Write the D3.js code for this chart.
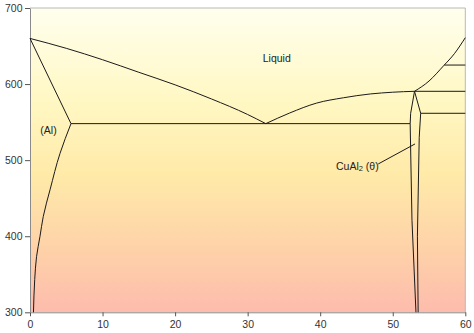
<!DOCTYPE html>
<html>
<head>
<meta charset="utf-8">
<script src="https://cdn.jsdelivr.net/npm/d3@7"></script>
<style>
  html, body { margin: 0; padding: 0; background: #fff; }
  svg { display: block; }
  .tick text { font-family: "Liberation Sans", Arial, sans-serif; font-size: 10.5px; fill: #333; }
  .lbl { font-family: "Liberation Sans", Arial, sans-serif; font-size: 10.5px; fill: #222; }
</style>
</head>
<body>
<svg id="chart" width="474" height="333"></svg>
<script>
// Al–Cu phase diagram, Al-rich side (wt% Cu vs temperature °C)
const xTicks = [0, 10, 20, 30, 40, 50, 60];
const yTicks = [300, 400, 500, 600, 700];

// Liquidus, Al side: Al melting point down to the eutectic
const liquidusAl = [[0, 660], [5, 647], [10, 632], [15, 615.5], [20, 599], [25, 580.5], [30, 560], [32.5, 548]];
// Liquidus, θ side: eutectic up to the θ peritectic point
const liquidusTheta = [[32.5, 548], [35.8, 562], [39.5, 575], [43.2, 582], [46.9, 587], [50, 589.3], [53.0, 590.5]];
// Liquidus above the θ point
const liquidusEta = [[53.0, 590.5], [55, 604], [57, 624], [58.5, 640], [60, 661]];
// Solidus of (Al)
const solidusAl = [[0, 660], [5.65, 548]];
// Solvus of (Al)
const solvusAl = [[5.65, 548], [4.14, 509], [2.76, 461], [1.83, 426], [1.38, 400], [0.9, 373], [0.65, 343], [0.48, 300]];
// θ (CuAl2) phase boundaries
const thetaLeft = [[53.0, 590.5], [52.47, 561.6], [52.4, 548], [52.65, 421], [53.2, 300]];
const thetaRight = [[53.0, 590.5], [53.85, 561.6], [53.65, 530], [53.4, 400], [53.5, 300]];
// Isotherms
const eutectic = [[5.65, 548], [52.4, 548]];
const isoPeritectic = [[53.0, 590.5], [60, 590.5]];
const isoUpper = [[57.1, 625], [60, 625]];
const isoLower = [[53.85, 561.6], [60, 561.6]];
// Phase labels and the θ leader line
const labels = [
  { text: "Liquid", x: 32.08, t: 629 },
  { text: "(Al)", x: 1.42, t: 535 }
];
const thetaLabel = { x: 42.18, t: 487.1 };
const thetaLeader = [[48.0, 495], [53.07, 521.3]];

const svg = d3.select("#chart");
const m = { left: 30, right: 8.7, top: 8, bottom: 20.7 };
const W = 474, H = 333;

const x = d3.scaleLinear().domain([0, 60]).range([m.left, W - m.right]);
const y = d3.scaleLinear().domain([300, 700]).range([H - m.bottom, m.top]);

// Background gradient of the plot area
const defs = svg.append("defs");
const grad = defs.append("linearGradient").attr("id", "bg")
  .attr("x1", 0).attr("y1", 0).attr("x2", 0).attr("y2", 1);
[["0%", "#ffffee"], ["30%", "#fff8c4"], ["55%", "#ffeaa8"], ["78%", "#fed3a8"], ["100%", "#fdbcad"]]
  .forEach(([o, c]) => grad.append("stop").attr("offset", o).attr("stop-color", c));

svg.append("rect")
  .attr("x", x(0)).attr("y", y(700))
  .attr("width", x(60) - x(0)).attr("height", y(300) - y(700))
  .attr("fill", "url(#bg)");

// Frame (top and right)
svg.append("path")
  .attr("d", `M${x(0)},${y(700)}H${x(60)}V${y(300)}`)
  .attr("fill", "none").attr("stroke", "#b8b8b8").attr("stroke-width", 1);

// Axes
const xAxis = d3.axisBottom(x).tickValues(xTicks).tickSize(4).tickSizeOuter(0).tickPadding(4);
const yAxis = d3.axisLeft(y).tickValues(yTicks).tickSize(5).tickSizeOuter(0).tickPadding(2.5);

const gx = svg.append("g").attr("transform", `translate(0,${y(300)})`).call(xAxis);
const gy = svg.append("g").attr("transform", `translate(${x(0)},0)`).call(yAxis);
[gx, gy].forEach(g => {
  g.select(".domain").attr("stroke", "#8a8a8a");
  g.selectAll(".tick line").attr("stroke", "#555");
});

// Phase boundaries
const lineX = d3.line().x(d => x(d[0])).y(d => y(d[1])).curve(d3.curveMonotoneX);
const lineY = d3.line().x(d => x(d[0])).y(d => y(d[1])).curve(d3.curveMonotoneY);
const straight = d3.line().x(d => x(d[0])).y(d => y(d[1]));

const lines = svg.append("g").attr("fill", "none").attr("stroke", "#1a1a1a").attr("stroke-width", 1);
[liquidusAl, liquidusTheta, liquidusEta].forEach(d => lines.append("path").attr("d", lineX(d)));
lines.append("path").attr("d", lineY(solvusAl));
[solidusAl, thetaLeft, thetaRight, eutectic, isoPeritectic, isoUpper, isoLower, thetaLeader]
  .forEach(d => lines.append("path").attr("d", straight(d)));

// Labels
svg.selectAll("text.phase").data(labels).join("text")
  .attr("class", "lbl phase")
  .attr("x", d => x(d.x)).attr("y", d => y(d.t))
  .text(d => d.text);

const tl = svg.append("text").attr("class", "lbl")
  .attr("x", x(thetaLabel.x)).attr("y", y(thetaLabel.t));
tl.append("tspan").text("CuAl");
tl.append("tspan").attr("font-size", "7.5px").attr("dy", 1.5).text("2");
tl.append("tspan").attr("dy", -1.5).text(" (θ)");
</script>
</body>
</html>
